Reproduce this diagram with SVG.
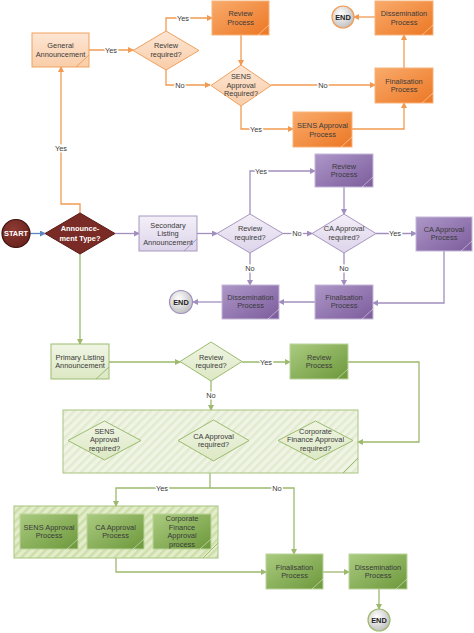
<svg xmlns="http://www.w3.org/2000/svg" width="474" height="633" viewBox="0 0 474 633">
<style>
text{font-family:"Liberation Sans",Arial,sans-serif;font-size:7.4px;fill:#3a3a3a;text-anchor:middle}
.lbl{paint-order:stroke;stroke:#fff;stroke-width:3px}
.wt{fill:#fff;font-weight:bold}
.bd{font-weight:bold;fill:#222}
.co,.cp,.cg,.cb{fill:none;stroke-width:1.3}
.co{stroke:#f29a52}.cp{stroke:#a08fbe}.cg{stroke:#9cb96d}.cb{stroke:#5b86c4}
.po{fill:url(#gpo);stroke:#f6b37a;stroke-width:1}
.lo{fill:url(#glo);stroke:#f0a15e;stroke-width:1}
.pp{fill:url(#gpp);stroke:#c6b8d8;stroke-width:1}
.lp{fill:url(#glp);stroke:#a897c0;stroke-width:1}
.pg{fill:url(#gpg);stroke:#bcd39a;stroke-width:1}
.lg{fill:url(#glg);stroke:#9cbb6f;stroke-width:1}
.fo{stroke:#f0a15e;stroke-width:1;fill:none}
.fl{stroke:#ffffff;stroke-opacity:.45;stroke-width:1;fill:none}
.fp{stroke:#a897c0;stroke-width:1;fill:none}
.fg{stroke:#9cbb6f;stroke-width:1;fill:none}
</style>
<defs>
<linearGradient id="gpo" x1="0" y1="0" x2="1" y2="1"><stop offset="0" stop-color="#f9ab6c"/><stop offset="1" stop-color="#ec7724"/></linearGradient>
<linearGradient id="glo" x1="0" y1="0" x2="0" y2="1"><stop offset="0" stop-color="#fde6d4"/><stop offset="1" stop-color="#f9cda8"/></linearGradient>
<linearGradient id="gpp" x1="0" y1="0" x2="1" y2="1"><stop offset="0" stop-color="#ad97c8"/><stop offset="1" stop-color="#7c5c9c"/></linearGradient>
<linearGradient id="glp" x1="0" y1="0" x2="0" y2="1"><stop offset="0" stop-color="#f3eff8"/><stop offset="1" stop-color="#ddd4ea"/></linearGradient>
<linearGradient id="gpg" x1="0" y1="0" x2="1" y2="1"><stop offset="0" stop-color="#aacb80"/><stop offset="1" stop-color="#6d983b"/></linearGradient>
<linearGradient id="glg" x1="0" y1="0" x2="0" y2="1"><stop offset="0" stop-color="#f0f5e4"/><stop offset="1" stop-color="#dce8c4"/></linearGradient>
<radialGradient id="gend" cx="0.4" cy="0.35" r="0.7"><stop offset="0" stop-color="#ffffff"/><stop offset="1" stop-color="#bdbdbd"/></radialGradient>
<radialGradient id="gst" cx="0.4" cy="0.35" r="0.7"><stop offset="0" stop-color="#8d3a33"/><stop offset="1" stop-color="#6a221d"/></radialGradient>
<pattern id="h1" patternUnits="userSpaceOnUse" width="6" height="6" patternTransform="rotate(45)"><rect width="6" height="6" fill="#eff4e5"/><rect width="2.5" height="6" fill="#e2ebd0"/></pattern>
<pattern id="h2" patternUnits="userSpaceOnUse" width="6" height="6" patternTransform="rotate(45)"><rect width="6" height="6" fill="#e3edcc"/><rect width="2.5" height="6" fill="#cddea8"/></pattern>
<marker id="ao" markerWidth="6" markerHeight="6" refX="5" refY="3" orient="auto" markerUnits="userSpaceOnUse"><path d="M0,0 L6,3 L0,6 z" fill="#f29a52"/></marker>
<marker id="ap" markerWidth="6" markerHeight="6" refX="5" refY="3" orient="auto" markerUnits="userSpaceOnUse"><path d="M0,0 L6,3 L0,6 z" fill="#a08fbe"/></marker>
<marker id="ag" markerWidth="6" markerHeight="6" refX="5" refY="3" orient="auto" markerUnits="userSpaceOnUse"><path d="M0,0 L6,3 L0,6 z" fill="#9cb96d"/></marker>
<marker id="ab" markerWidth="6" markerHeight="6" refX="5" refY="3" orient="auto" markerUnits="userSpaceOnUse"><path d="M0,0 L6,3 L0,6 z" fill="#5b86c4"/></marker>
</defs>
<rect width="474" height="633" fill="#ffffff"/>

<g id="connectors">
<path class="co" d="M89,50 H133" marker-end="url(#ao)"/>
<path class="co" d="M166,31 V18 H212" marker-end="url(#ao)"/>
<path class="co" d="M166,70 V85 H210" marker-end="url(#ao)"/>
<path class="co" d="M241,35 V65" marker-end="url(#ao)"/>
<path class="co" d="M271,85 H375" marker-end="url(#ao)"/>
<path class="co" d="M241,106 V129 H293" marker-end="url(#ao)"/>
<path class="co" d="M352,129 H404 V103" marker-end="url(#ao)"/>
<path class="co" d="M404,68 V35" marker-end="url(#ao)"/>
<path class="co" d="M375,17 H354" marker-end="url(#ao)"/>
<path class="co" d="M80,213 V204 H61 V67" marker-end="url(#ao)"/>
<path class="cb" d="M30,233.5 H45" marker-end="url(#ab)"/>
<path class="cp" d="M115,233.5 H139" marker-end="url(#ap)"/>
<path class="cp" d="M197,233.5 H217" marker-end="url(#ap)"/>
<path class="cp" d="M250,214 V171 H315" marker-end="url(#ap)"/>
<path class="cp" d="M344,187 V214" marker-end="url(#ap)"/>
<path class="cp" d="M283,233.5 H312" marker-end="url(#ap)"/>
<path class="cp" d="M376,233.5 H416" marker-end="url(#ap)"/>
<path class="cp" d="M444,251 V303 H373" marker-end="url(#ap)"/>
<path class="cp" d="M250,253 V285" marker-end="url(#ap)"/>
<path class="cp" d="M344,253 V285" marker-end="url(#ap)"/>
<path class="cp" d="M315,302 H279" marker-end="url(#ap)"/>
<path class="cp" d="M222,302 H193" marker-end="url(#ap)"/>
<path class="cg" d="M80,254 V344" marker-end="url(#ag)"/>
<path class="cg" d="M109,362 H180" marker-end="url(#ag)"/>
<path class="cg" d="M242,362 H290" marker-end="url(#ag)"/>
<path class="cg" d="M348,362 H419 V442 H358" marker-end="url(#ag)"/>
<path class="cg" d="M211,381 V410" marker-end="url(#ag)"/>
<path class="cg" d="M210,473 V488 H116 V506" marker-end="url(#ag)"/>
<path class="cg" d="M210,488 H294 V554" marker-end="url(#ag)"/>
<path class="cg" d="M116,558 V572 H266" marker-end="url(#ag)"/>
<path class="cg" d="M323,572 H349" marker-end="url(#ag)"/>
<path class="cg" d="M379,589 V609" marker-end="url(#ag)"/>
<text class="lbl" x="111" y="52.5">Yes</text>
<text class="lbl" x="183" y="20.5">Yes</text>
<text class="lbl" x="180" y="87.5">No</text>
<text class="lbl" x="323" y="87.5">No</text>
<text class="lbl" x="256" y="131.5">Yes</text>
<text class="lbl" x="61" y="150.5">Yes</text>
<text class="lbl" x="261" y="173.5">Yes</text>
<text class="lbl" x="297" y="236">No</text>
<text class="lbl" x="395" y="236">Yes</text>
<text class="lbl" x="250" y="270.5">No</text>
<text class="lbl" x="344" y="270.5">No</text>
<text class="lbl" x="266" y="364.5">Yes</text>
<text class="lbl" x="211" y="397.5">No</text>
<text class="lbl" x="162" y="490.5">Yes</text>
<text class="lbl" x="277" y="490.5">No</text>
</g>

<g id="general-announcement">
<rect class="lo" x="32" y="33" width="57" height="34"/>
<path class="fo" d="M76,67 L89,55"/>
<text x="60.5" y="48">General</text><text x="60.5" y="56.5">Announcement</text>
</g>
<g id="o-review-required">
<polygon class="lo" points="166,31 199,50.5 166,70 133,50.5"/>
<text x="166" y="48">Review</text><text x="166" y="56.5">required?</text>
</g>
<g id="o-review-process">
<rect class="po" x="212" y="1" width="57" height="34"/>
<path class="fl" d="M258,35 L269,25"/>
<text x="240.5" y="16">Review</text><text x="240.5" y="24.5">Process</text>
</g>
<g id="o-sens-required">
<polygon class="lo" points="241,65 271,85.5 241,106 211,85.5"/>
<text x="241" y="79">SENS</text><text x="241" y="87.5">Approval</text><text x="241" y="96">Required?</text>
</g>
<g id="o-sens-process">
<rect class="po" x="293" y="112" width="59" height="35"/>
<path class="fl" d="M341,147 L352,137"/>
<text x="322.5" y="128">SENS Approval</text><text x="322.5" y="136.5">Process</text>
</g>
<g id="o-finalisation">
<rect class="po" x="375" y="68" width="58" height="35"/>
<path class="fl" d="M422,103 L433,93"/>
<text x="404" y="83.5">Finalisation</text><text x="404" y="92">Process</text>
</g>
<g id="o-dissemination">
<rect class="po" x="375" y="1" width="58" height="34"/>
<path class="fl" d="M422,35 L433,25"/>
<text x="404" y="16">Dissemination</text><text x="404" y="24.5">Process</text>
</g>
<g id="o-end">
<circle cx="343" cy="17" r="11" fill="url(#gend)" stroke="#f29a52" stroke-width="1.2"/>
<text class="bd" x="343" y="19.8">END</text>
</g>

<g id="start">
<circle cx="16" cy="233.5" r="14" fill="url(#gst)" stroke="#3e100d" stroke-width="1.2"/>
<text class="wt" x="16" y="236.3">START</text>
</g>
<g id="announcement-type">
<polygon points="80,213 115,233.5 80,254 45,233.5" fill="#7a2b25" stroke="#5a1a15" stroke-width="1"/>
<text class="wt" x="80" y="231">Announce-</text><text class="wt" x="80" y="240.5">ment Type?</text>
</g>

<g id="secondary-listing">
<rect class="lp" x="139" y="216" width="58" height="35"/>
<path class="fp" d="M184,251 L197,239"/>
<text x="168" y="227.5">Secondary</text><text x="168" y="236">Listing</text><text x="168" y="244.5">Announcement</text>
</g>
<g id="p-review-required">
<polygon class="lp" points="250,214 283,233.5 250,253 217,233.5"/>
<text x="250" y="231">Review</text><text x="250" y="239.5">required?</text>
</g>
<g id="p-review-process">
<rect class="pp" x="315" y="154" width="58" height="33"/>
<path class="fl" d="M362,187 L373,177"/>
<text x="344" y="168.5">Review</text><text x="344" y="177">Process</text>
</g>
<g id="p-ca-required">
<polygon class="lp" points="344,214 376,233.5 344,253 312,233.5"/>
<text x="344" y="231">CA Approval</text><text x="344" y="239.5">required?</text>
</g>
<g id="p-ca-process">
<rect class="pp" x="416" y="217" width="56" height="34"/>
<path class="fl" d="M461,251 L472,241"/>
<text x="444" y="231.5">CA Approval</text><text x="444" y="240">Process</text>
</g>
<g id="p-finalisation">
<rect class="pp" x="315" y="285" width="58" height="34"/>
<path class="fl" d="M362,319 L373,309"/>
<text x="344" y="299.5">Finalisation</text><text x="344" y="308">Process</text>
</g>
<g id="p-dissemination">
<rect class="pp" x="222" y="285" width="57" height="34"/>
<path class="fl" d="M268,319 L279,309"/>
<text x="250.5" y="299.5">Dissemination</text><text x="250.5" y="308">Process</text>
</g>
<g id="p-end">
<circle cx="181" cy="302" r="11.5" fill="url(#gend)" stroke="#a08fbe" stroke-width="1.2"/>
<text class="bd" x="181" y="304.8">END</text>
</g>

<g id="primary-listing">
<rect class="lg" x="51" y="344" width="58" height="35"/>
<path class="fg" d="M96,379 L109,367"/>
<text x="80" y="359.5">Primary Listing</text><text x="80" y="368">Announcement</text>
</g>
<g id="g-review-required">
<polygon class="lg" points="211,342 242,361.5 211,381 180,361.5"/>
<text x="211" y="359.5">Review</text><text x="211" y="368">required?</text>
</g>
<g id="g-review-process">
<rect class="pg" x="290" y="344" width="58" height="35"/>
<path class="fl" d="M337,379 L348,369"/>
<text x="319" y="359.5">Review</text><text x="319" y="368">Process</text>
</g>
<g id="approvals-required">
<rect x="63" y="410" width="295" height="63" fill="url(#h1)" stroke="#a9c47f" stroke-width="1"/>
<path class="fg" d="M343,473 L358,458"/>
<polygon class="lg" points="104.5,421 141,440.5 104.5,460 68,440.5"/>
<text x="104.5" y="433.5">SENS</text><text x="104.5" y="442">Approval</text><text x="104.5" y="450.5">required?</text>
<polygon class="lg" points="213.5,420 249,440.5 213.5,461 178,440.5"/>
<text x="213.5" y="438.5">CA Approval</text><text x="213.5" y="447">required?</text>
<polygon class="lg" points="315.5,421 353,440.5 315.5,460 278,440.5"/>
<text x="315.5" y="433.5">Corporate</text><text x="315.5" y="442">Finance Approval</text><text x="315.5" y="450.5">required?</text>
</g>
<g id="approval-processes">
<rect x="14" y="506" width="204" height="52" fill="url(#h2)" stroke="#a9c47f" stroke-width="1"/>
<path class="fg" d="M203,558 L218,543"/>
<rect class="pg" x="20" y="514" width="58" height="35"/>
<path class="fl" d="M67,549 L78,539"/>
<text x="49" y="529.5">SENS Approval</text><text x="49" y="538">Process</text>
<rect class="pg" x="87" y="514" width="57" height="35"/>
<path class="fl" d="M133,549 L144,539"/>
<text x="115.5" y="529.5">CA Approval</text><text x="115.5" y="538">Process</text>
<rect class="pg" x="153" y="514" width="58" height="35"/>
<path class="fl" d="M200,549 L211,539"/>
<text x="182" y="521">Corporate</text><text x="182" y="529.5">Finance</text><text x="182" y="538">Approval</text><text x="182" y="546.5">process</text>
</g>
<g id="g-finalisation">
<rect class="pg" x="266" y="554" width="57" height="35"/>
<path class="fl" d="M312,589 L323,579"/>
<text x="294.5" y="569.5">Finalisation</text><text x="294.5" y="578">Process</text>
</g>
<g id="g-dissemination">
<rect class="pg" x="349" y="554" width="58" height="35"/>
<path class="fl" d="M396,589 L407,579"/>
<text x="378" y="569.5">Dissemination</text><text x="378" y="578">Process</text>
</g>
<g id="g-end">
<circle cx="379" cy="620" r="11" fill="url(#gend)" stroke="#9cb96d" stroke-width="1.2"/>
<text class="bd" x="379" y="622.8">END</text>
</g>
</svg>
